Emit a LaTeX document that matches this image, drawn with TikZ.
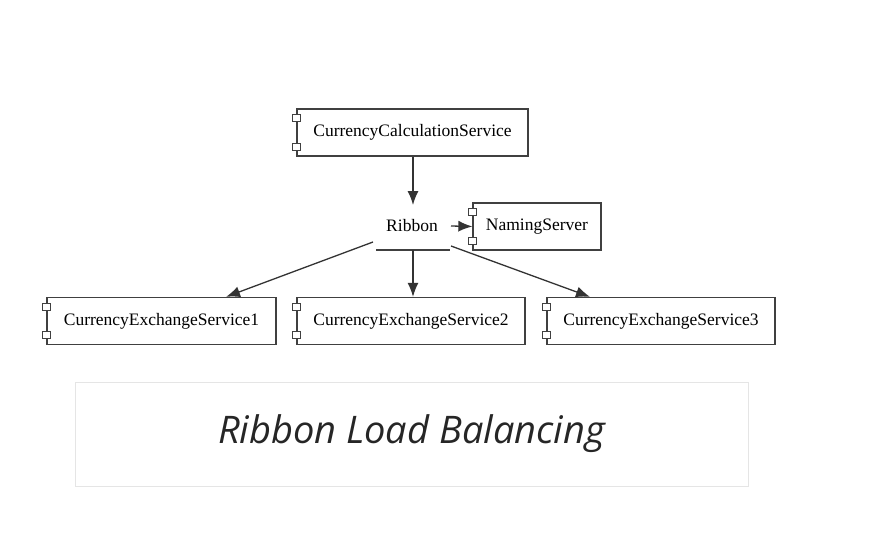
\documentclass[tikz,border=0pt]{standalone}
\usepackage{fontspec}
\setmainfont{Liberation Serif}
\newfontfamily\capfont{Open Sans}
\usetikzlibrary{arrows.meta,calc}
\begin{document}
\begin{tikzpicture}[x=1pt,y=-1pt,
  comp/.style={draw=black!75,line width=1.3pt,fill=white,minimum height=47pt,inner sep=0pt,font=\fontsize{17.5}{17.5}\selectfont,
    append after command={\pgfextra{\let\mainnode\tikzlastnode}
      ($(\mainnode.north west)+(0,6)$) node[draw=black!75,line width=1pt,fill=white,minimum width=8pt,minimum height=7pt,inner sep=0pt,anchor=north]{}
      ($(\mainnode.south west)+(0,-6)$) node[draw=black!75,line width=1pt,fill=white,minimum width=8pt,minimum height=7pt,inner sep=0pt,anchor=south]{}}},
  arr/.style={draw=black!80,line width=1.3pt,-{Latex[length=14pt,width=11pt]}},
  ln/.style={draw=black!75,line width=1.3pt}]
\useasboundingbox (0,0) rectangle (881,546);
\node[comp,minimum width=231pt] (ccs) at (412.5,132.5) {CurrencyCalculationService};
\node[comp,minimum width=128pt] (ns) at (537,226.5) {NamingServer};
\node[font=\fontsize{17.5}{17.5}\selectfont,inner sep=0pt] (rib) at (412,226) {Ribbon};
\node[comp,minimum width=229pt] (c1) at (161.5,321) {CurrencyExchangeService1};
\node[comp,minimum width=228pt] (c2) at (411,321) {CurrencyExchangeService2};
\node[comp,minimum width=228pt] (c3) at (661,321) {CurrencyExchangeService3};
\coordinate (bl) at (376,250); \coordinate (br) at (450,250);
\coordinate (dl) at (373,242); \coordinate (dr) at (451,246);
\coordinate (rt) at (413,205); \coordinate (rb) at (413,250); \coordinate (re) at (451,226);
\draw[ln] (bl) -- (br);
\draw[arr] (ccs.south -| rt) -- (rt);
\draw[arr] (re) -- (ns.west);
\draw[arr] (rb) -- (c2.north -| rb);
\draw[arr] (dl) -- (c1.north -| 226,0);
\draw[arr] (dr) -- (c3.north -| 590,0);
\node[draw=black!10,line width=0.8pt,minimum width=673pt,minimum height=104pt,text=black!85,
  font=\capfont\itshape\fontsize{38}{38}\selectfont] (cap) at (411.5,434) {Ribbon Load Balancing};
\end{tikzpicture}
\end{document}
